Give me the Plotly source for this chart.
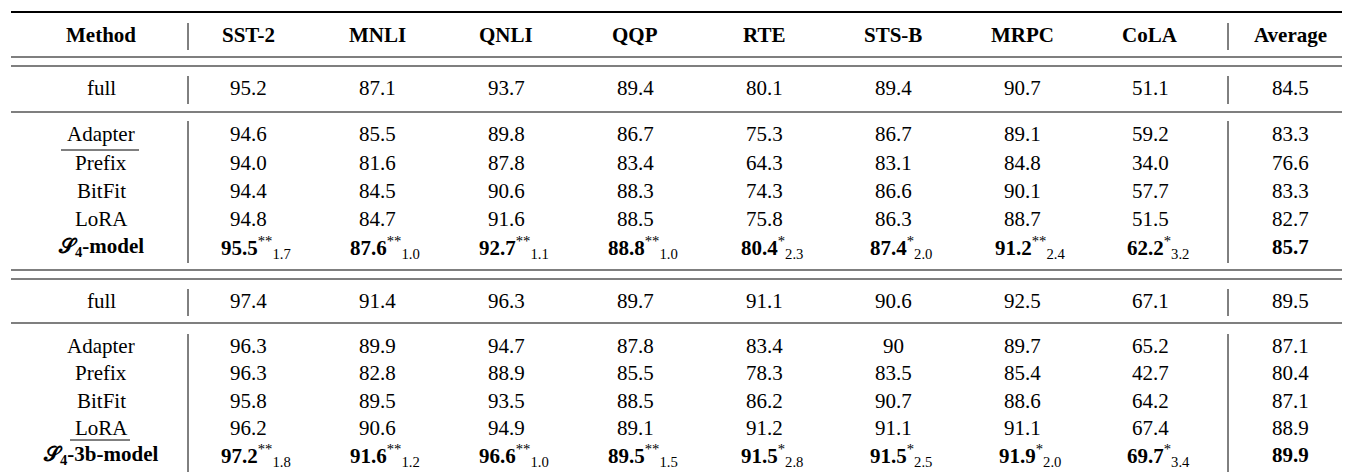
import plotly.graph_objects as go

columns = ["Method", "SST-2", "MNLI", "QNLI", "QQP", "RTE", "STS-B", "MRPC", "CoLA", "Average"]

base_methods = ["full", "Adapter", "Prefix", "BitFit", "LoRA", "𝒮<sub>4</sub>-model"]
base_values = [
    ["95.2", "87.1", "93.7", "89.4", "80.1", "89.4", "90.7", "51.1", "84.5"],
    ["94.6", "85.5", "89.8", "86.7", "75.3", "86.7", "89.1", "59.2", "83.3"],
    ["94.0", "81.6", "87.8", "83.4", "64.3", "83.1", "84.8", "34.0", "76.6"],
    ["94.4", "84.5", "90.6", "88.3", "74.3", "86.6", "90.1", "57.7", "83.3"],
    ["94.8", "84.7", "91.6", "88.5", "75.8", "86.3", "88.7", "51.5", "82.7"],
]
base_s4 = ["95.5", "87.6", "92.7", "88.8", "80.4", "87.4", "91.2", "62.2"]
base_s4_stars = ["**", "**", "**", "**", "*", "*", "**", "*"]
base_s4_std = ["1.7", "1.0", "1.1", "1.0", "2.3", "2.0", "2.4", "3.2"]
base_s4_avg = "85.7"

big_methods = ["full", "Adapter", "Prefix", "BitFit", "LoRA", "𝒮<sub>4</sub>-3b-model"]
big_values = [
    ["97.4", "91.4", "96.3", "89.7", "91.1", "90.6", "92.5", "67.1", "89.5"],
    ["96.3", "89.9", "94.7", "87.8", "83.4", "90", "89.7", "65.2", "87.1"],
    ["96.3", "82.8", "88.9", "85.5", "78.3", "83.5", "85.4", "42.7", "80.4"],
    ["95.8", "89.5", "93.5", "88.5", "86.2", "90.7", "88.6", "64.2", "87.1"],
    ["96.2", "90.6", "94.9", "89.1", "91.2", "91.1", "91.1", "67.4", "88.9"],
]
big_s4 = ["97.2", "91.6", "96.6", "89.5", "91.5", "91.5", "91.9", "69.7"]
big_s4_stars = ["**", "**", "**", "**", "*", "*", "*", "*"]
big_s4_std = ["1.8", "1.2", "1.0", "1.5", "2.8", "2.5", "2.0", "3.4"]
big_s4_avg = "89.9"

col_x = [93, 240, 369, 498, 627, 756, 885, 1014, 1142, 1282]
header_y = 27
base_rows_y = [80, 126, 155, 183, 211, 239]
big_rows_y = [293, 338, 365, 393, 420, 447]

font = dict(family="Liberation Serif", size=21, color="black")
annotations = []


def cell(x, y, text):
    annotations.append(dict(x=x, y=y, text=text, showarrow=False, font=font,
                            xanchor="center", yanchor="middle"))


for x, c in zip(col_x, columns):
    cell(x, header_y, "<b>%s</b>" % c)

for methods, values, s4, stars, std, avg, ys in [
        (base_methods, base_values, base_s4, base_s4_stars, base_s4_std, base_s4_avg, base_rows_y),
        (big_methods, big_values, big_s4, big_s4_stars, big_s4_std, big_s4_avg, big_rows_y)]:
    for i, m in enumerate(methods):
        cell(col_x[0], ys[i], "<b>%s</b>" % m if i == 5 else m)
    for i, row in enumerate(values):
        for x, v in zip(col_x[1:], row):
            cell(x, ys[i], v)
    for x, v, st, sd in zip(col_x[1:9], s4, stars, std):
        cell(x + 8, ys[5], "<b>%s</b><sup>%s</sup><sub>%s</sub>" % (v, st, sd))
    cell(col_x[9], ys[5], "<b>%s</b>" % avg)

shapes = []


def hline(y, w=1.2):
    shapes.append(dict(type="line", x0=3, x1=1347, y0=y, y1=y,
                       line=dict(color="black", width=w)))


def vline(x, y0, y1):
    shapes.append(dict(type="line", x0=x, x1=x, y0=y0, y1=y1,
                       line=dict(color="black", width=1)))


hline(4, 2.2)
hline(49)
hline(58)
hline(104)
hline(262)
hline(271)
hline(315)
hline(471, 2.2)

for x in [180, 1220]:
    vline(x, 15, 42)
    vline(x, 68, 96)
    vline(x, 113, 255)
    vline(x, 281, 308)
    vline(x, 326, 464)

# underlines for Adapter (block 1) and LoRA (block 2)
shapes.append(dict(type="line", x0=53, x1=131, y0=142, y1=142, line=dict(color="black", width=1)))
shapes.append(dict(type="line", x0=62, x1=122, y0=432, y1=432, line=dict(color="black", width=1)))

fig = go.Figure()
fig.update_layout(
    width=1350, height=474,
    margin=dict(l=0, r=0, t=0, b=0),
    paper_bgcolor="white", plot_bgcolor="white",
    xaxis=dict(range=[0, 1350], visible=False, fixedrange=True),
    yaxis=dict(range=[474, 0], visible=False, fixedrange=True),
    annotations=annotations,
    shapes=shapes,
    showlegend=False,
)
fig.write_html("out.html")
